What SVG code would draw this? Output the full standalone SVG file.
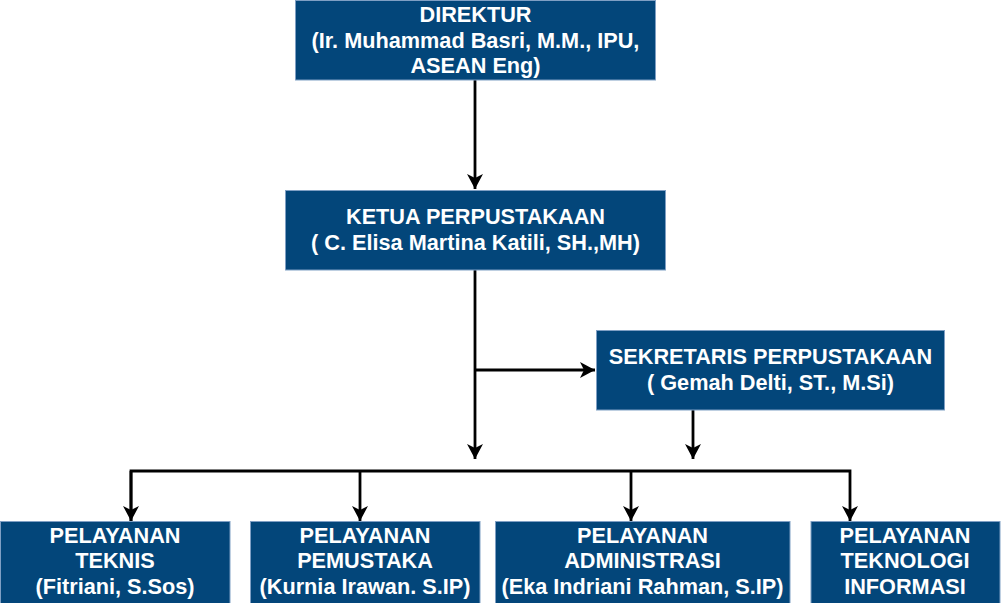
<svg xmlns="http://www.w3.org/2000/svg" width="1001" height="603" viewBox="0 0 1001 603">
<style>
.box{fill:#03467a;stroke:#7f9fc4;stroke-width:1}
.t{font-family:"Liberation Sans",Arial,sans-serif;font-weight:bold;font-size:21.7px;fill:#ffffff;text-anchor:middle}
.c{fill:none;stroke:#000;stroke-width:2.8}
</style>
<defs>
<marker id="arr" markerUnits="userSpaceOnUse" markerWidth="18" markerHeight="18" viewBox="0 0 18 18" refX="15" refY="9" orient="auto">
<path d="M0,1 L15,9 L0,17 L4,9 Z" fill="#000"/>
</marker>
</defs>
<rect width="1001" height="603" fill="#ffffff"/>
<g id="connectors">
<path class="c" d="M475,80 V189" marker-end="url(#arr)"/>
<path class="c" d="M475,270 V459" marker-end="url(#arr)"/>
<path class="c" d="M475,370 H595" marker-end="url(#arr)"/>
<path class="c" d="M693,410 V459" marker-end="url(#arr)"/>
<path class="c" d="M131,521 V471 H850 V521" marker-end="url(#arr)"/>
<path class="c" d="M131,471 V521" marker-end="url(#arr)"/>
<path class="c" d="M360,471 V521" marker-end="url(#arr)"/>
<path class="c" d="M631,471 V521" marker-end="url(#arr)"/>
</g>
<g id="direktur">
<rect class="box" x="295.5" y="0.5" width="360" height="79.5"/>
<text class="t" x="475.5" y="22">DIREKTUR</text>
<text class="t" x="475.5" y="47.5">(Ir. Muhammad Basri, M.M., IPU,</text>
<text class="t" x="475.5" y="73">ASEAN Eng)</text>
</g>
<g id="ketua">
<rect class="box" x="285.5" y="190.5" width="380" height="79.5"/>
<text class="t" x="475.5" y="223.5">KETUA PERPUSTAKAAN</text>
<text class="t" x="475.5" y="250">( C. Elisa Martina Katili, SH.,MH)</text>
</g>
<g id="sekretaris">
<rect class="box" x="596.5" y="330.5" width="348" height="79.5"/>
<text class="t" x="770.5" y="363.5">SEKRETARIS PERPUSTAKAAN</text>
<text class="t" x="770.5" y="390">( Gemah Delti, ST., M.Si)</text>
</g>
<g id="teknis">
<rect class="box" x="0.5" y="521.5" width="229.5" height="85"/>
<text class="t" x="115" y="542.5">PELAYANAN</text>
<text class="t" x="115" y="568">TEKNIS</text>
<text class="t" x="115" y="593.5">(Fitriani, S.Sos)</text>
</g>
<g id="pemustaka">
<rect class="box" x="250.5" y="521.5" width="229.5" height="85"/>
<text class="t" x="365" y="542.5">PELAYANAN</text>
<text class="t" x="365" y="568">PEMUSTAKA</text>
<text class="t" x="365" y="593.5">(Kurnia Irawan. S.IP)</text>
</g>
<g id="administrasi">
<rect class="box" x="495.5" y="521.5" width="294.5" height="85"/>
<text class="t" x="642.5" y="542.5">PELAYANAN</text>
<text class="t" x="642.5" y="568">ADMINISTRASI</text>
<text class="t" x="642.5" y="593.5">(Eka Indriani Rahman, S.IP)</text>
</g>
<g id="teknologi">
<rect class="box" x="811" y="521.5" width="189" height="85"/>
<text class="t" x="905" y="542.5">PELAYANAN</text>
<text class="t" x="905" y="568">TEKNOLOGI</text>
<text class="t" x="905" y="593.5">INFORMASI</text>
</g>
</svg>
